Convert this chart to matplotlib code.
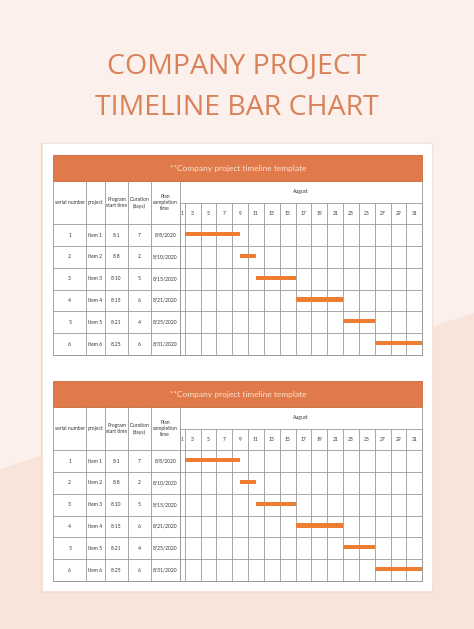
import matplotlib.pyplot as plt
from matplotlib.patches import Rectangle, Polygon

# ---- data ----
serial = [1, 2, 3, 4, 5, 6]
projects = ["Item 1", "Item 2", "Item 3", "Item 4", "Item 5", "Item 6"]
start_labels = ["8-1", "8-8", "8-10", "8-15", "8-21", "8-25"]
start_day = [1, 8, 10, 15, 21, 25]
duration = [7, 2, 5, 6, 4, 6]
finish_labels = ["8/8/2020", "8/10/2020", "8/15/2020", "8/21/2020", "8/25/2020", "8/31/2020"]
day_ticks = [1, 3, 5, 7, 9, 11, 13, 15, 17, 19, 21, 23, 25, 27, 29, 31]
col_headers = ["serial number", "project", "Program\nstart time", "Duration\n(days)", "Plan\ncompletion\ntime"]
table_title = "**Company project timeline template"
month = "August"

W, H = 474, 629
ORANGE = "#e07a4b"
BAR = "#ed7d31"
LINE = "#9a9a9a"
TXT = "#333333"
TITLE = "#d9825a"
FONT = "Lato"

fig = plt.figure(figsize=(W / 100, H / 100), dpi=100)
bg = fig.add_axes([0, 0, 1, 1])
bg.set_xlim(0, W)
bg.set_ylim(H, 0)
bg.axis("off")

# background with diagonal band
bg.add_patch(Rectangle((0, 0), W, H, color="#fbf0eb", zorder=0))
bg.add_patch(Polygon([(0, 470), (W, 470 - 0.33 * W), (W, H), (0, H)],
                     closed=True, color="#f8e4da", zorder=0))

# card with soft shadow
bg.add_patch(Rectangle((41.5, 142.5), 391, 449, color="#f3dccf", zorder=1))
bg.add_patch(Rectangle((43, 144), 388, 446, color="white", zorder=2))

# title
bg.text(W / 2, 66, "COMPANY PROJECT", ha="center", va="center", fontsize=20.5,
        color=TITLE, family="Open Sans", zorder=3)
bg.text(W / 2, 108, "TIMELINE BAR CHART", ha="center", va="center", fontsize=20.5,
        color=TITLE, family="Open Sans", zorder=3)

left_cols = [53.3, 86, 105, 128, 150.7, 179.7]
x_right = 422.3
row_h = 21.8


def draw_table(top):
    head_bot = top + 26
    aug_bot = head_bot + 21.5
    rows_top = aug_bot + 21.7
    bottom = rows_top + 6 * row_h

    # orange header bar
    bg.add_patch(Rectangle((left_cols[0], top), x_right - left_cols[0], head_bot - top,
                           facecolor=ORANGE, edgecolor="#c9693d", lw=0.6, zorder=3))
    bg.text((left_cols[0] + x_right) / 2, (top + head_bot) / 2, table_title,
            ha="center", va="center", fontsize=6, color="#fde3d2", family=FONT, zorder=4)

    # left column grid
    for x in left_cols:
        bg.plot([x, x], [head_bot, bottom], color=LINE, lw=0.6, zorder=3)
    bg.plot([x_right, x_right], [head_bot, bottom], color=LINE, lw=0.6, zorder=3)
    bg.plot([left_cols[0], x_right], [bottom, bottom], color=LINE, lw=0.6, zorder=3)
    for i in range(7):
        y = rows_top + i * row_h
        bg.plot([left_cols[0], left_cols[-1]], [y, y], color=LINE, lw=0.6, zorder=3)

    # column headers
    for j, label in enumerate(col_headers):
        xc = (left_cols[j] + left_cols[j + 1]) / 2
        bg.text(xc, (head_bot + rows_top) / 2, label, ha="center", va="center",
                fontsize=3.6, color=TXT, family=FONT, linespacing=1.35, zorder=4)
    bg.text((left_cols[-1] + x_right) / 2, (head_bot + aug_bot) / 2, month,
            ha="center", va="center", fontsize=3.6, color=TXT, family=FONT, zorder=4)

    # row contents
    for i in range(6):
        yc = rows_top + (i + 0.5) * row_h
        vals = [str(serial[i]), projects[i], start_labels[i], str(duration[i]), finish_labels[i]]
        for j, v in enumerate(vals):
            xc = (left_cols[j] + left_cols[j + 1]) / 2
            bg.text(xc, yc, v, ha="center", va="center", fontsize=3.6,
                    color=TXT, family=FONT, zorder=4)

    # gantt area (day header row + data rows) on real data axes
    x0 = left_cols[-1] / W
    w = (x_right - left_cols[-1]) / W
    y0 = 1 - bottom / H
    h = (bottom - aug_bot) / H
    ax = fig.add_axes([x0, y0, w, h])
    ax.set_xlim(0.37, 31)
    ax.set_ylim(5.5, -1.5)
    ax.patch.set_alpha(0)
    ax.set_xticks([])
    ax.set_yticks([])
    for s in ax.spines.values():
        s.set_color(LINE)
        s.set_linewidth(0.6)
    for d in day_ticks[:-1]:
        ax.axvline(d, color=LINE, lw=0.6)
    for r in range(6):
        ax.axhline(r - 0.5, color=LINE, lw=0.6)
    prev = 0.37
    for d in day_ticks:
        ax.text((prev + d) / 2, -1, str(d), ha="center", va="center",
                fontsize=3.6, color=TXT, family=FONT)
        prev = d
    ax.barh([r - 0.05 for r in range(6)], duration, left=start_day,
            height=0.19, color=BAR, zorder=3)


draw_table(155)
draw_table(381)

fig.savefig("out.png", dpi=100)
